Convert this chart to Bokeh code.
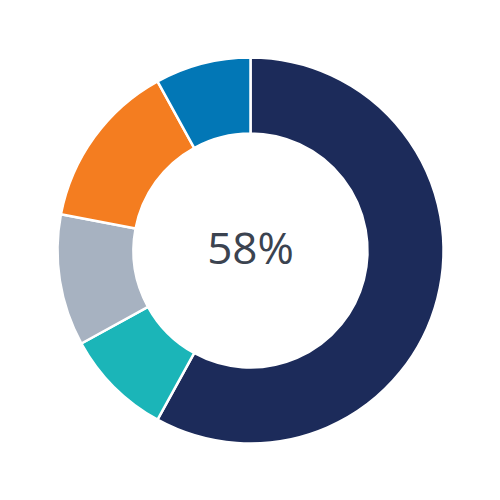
import numpy as np
from bokeh.plotting import figure
from bokeh.models import ColumnDataSource
from bokeh.core.properties import value
from bokeh.embed import file_html
from bokeh.resources import INLINE

categories = ["A", "B", "C", "D", "E"]
shares = [58, 9, 11, 14, 8]
colors = ["#1c2b5a", "#1bb5b8", "#a7b2c1", "#f47d20", "#0277b6"]
center_label = "58%"

vals = np.array(shares, dtype=float)
frac = vals / vals.sum()
cum = np.concatenate([[0.0], np.cumsum(frac)])
start = np.pi / 2 - cum[:-1] * 2 * np.pi
end = np.pi / 2 - cum[1:] * 2 * np.pi

src = ColumnDataSource(dict(cat=categories, start=start, end=end, color=colors))

W = 484
p = figure(width=W, height=W, x_range=(-250, W - 250), y_range=(-(W - 250), 250),
           output_backend="svg", toolbar_location=None, min_border=0)
p.axis.visible = False
p.grid.visible = False
p.outline_line_color = None
p.background_fill_color = "white"

p.annular_wedge(x=0, y=0, inner_radius=117, outer_radius=193,
                start_angle="start", end_angle="end", direction="clock",
                fill_color="color", line_color="white", line_width=2.5, source=src)

p.text(x=[0], y=[4], text=[center_label], text_align="center", text_baseline="middle",
       text_font=value("Open Sans"), text_font_size="44px", text_color="#3b4350")

open("out.html", "w").write(file_html(p, INLINE))
